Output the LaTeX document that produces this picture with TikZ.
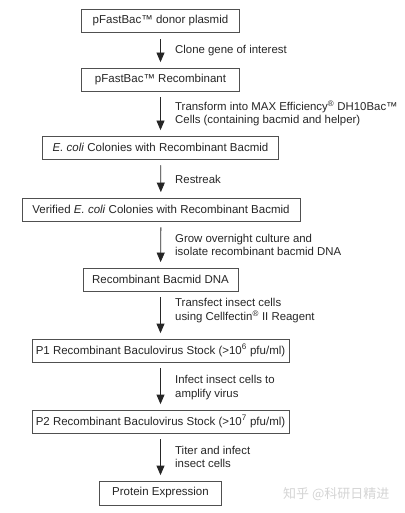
\documentclass[tikz,border=0pt]{standalone}
\usepackage{fontspec}
\setmainfont{Liberation Sans}
\newfontfamily\cjkwm{Noto Sans CJK SC}
\usetikzlibrary{arrows.meta}
\definecolor{ink}{HTML}{262626}
\definecolor{boxline}{HTML}{505050}
\definecolor{wm}{HTML}{D4D4D4}
\begin{document}
\begin{tikzpicture}[x=1pt,y=-1pt,
  stepbox/.style={draw=boxline,line width=0.8pt,fill=white,text=ink,
    minimum height=23pt,inner xsep=0pt,inner ysep=0pt,font=\fontsize{11.5}{13.5}\selectfont},
  flow/.style={draw=ink,line width=0.8pt,-{Triangle[width=8pt,length=9.5pt]},
    shorten <=6pt,shorten >=5.5pt},
  lbl/.style={anchor=west,align=left,text=ink,inner sep=0pt,
    font=\fontsize{11.4}{13.5}\selectfont}
]
\useasboundingbox (0,0) rectangle (404,513);
\node[stepbox,minimum width=158pt] (b1) at (160.5,21) {pFastBac™ donor plasmid};
\node[stepbox,minimum width=158pt] (b2) at (160.5,79.5) {pFastBac™ Recombinant};
\node[stepbox,minimum width=236pt] (b3) at (160.5,147.5) {\textit{E. coli} Colonies with Recombinant Bacmid};
\node[stepbox,minimum width=278pt] (b4) at (161,209.5) {Verified \textit{E. coli} Colonies with Recombinant Bacmid};
\node[stepbox,minimum width=155pt] (b5) at (160.5,279.5) {Recombinant Bacmid DNA};
\node[stepbox,minimum width=257pt] (b6) at (160.5,350.5) {P1 Recombinant Baculovirus Stock (>10\textsuperscript{6} pfu/ml)};
\node[stepbox,minimum width=257pt] (b7) at (160.5,421.5) {P2 Recombinant Baculovirus Stock (>10\textsuperscript{7} pfu/ml)};
\node[stepbox,minimum width=122pt,minimum height=24pt] (b8) at (160.5,493) {Protein Expression};

\draw[flow] (b1) -- (b2);
\draw[flow] (b2) -- (b3);
\draw[flow] (b3) -- (b4);
\draw[flow] (b4) -- (b5);
\draw[flow] (b5) -- (b6);
\draw[flow] (b6) -- (b7);
\draw[flow] (b7) -- (b8);

\node[lbl] (l1) at (175,50.5) {Clone gene of interest};
\node[lbl] (l2) at (175,113.5) {Transform into MAX Efficiency\textsuperscript{®} DH10Bac™\\Cells (containing bacmid and helper)};
\node[lbl] (l3) at (175,179.5) {Restreak};
\node[lbl] (l4) at (175,245) {Grow overnight culture and\\isolate recombinant bacmid DNA};
\node[lbl] (l5) at (175,310.5) {Transfect insect cells\\using Cellfectin\textsuperscript{®} II Reagent};
\node[lbl] (l6) at (175,387.5) {Infect insect cells to\\amplify virus};
\node[lbl] (l7) at (175,457) {Titer and infect\\insect cells};

\node[anchor=west,inner sep=0pt,text=wm,font=\cjkwm\fontsize{13}{15}\selectfont] (wmk) at (283,494) {知乎 @科研日精进};
\end{tikzpicture}
\end{document}
